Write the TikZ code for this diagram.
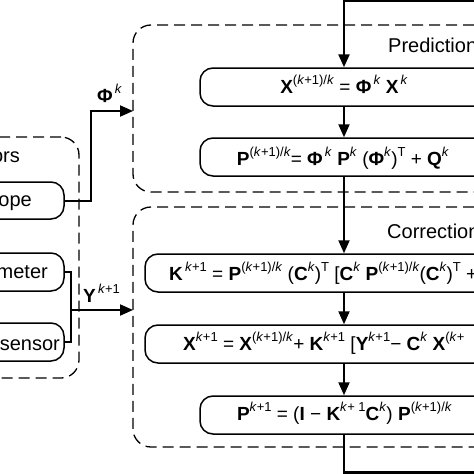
\documentclass[tikz,border=0pt]{standalone}
\usepackage{fontspec}
\setmainfont{Liberation Sans}
\usetikzlibrary{arrows.meta}
\newcommand{\bfx}[1]{\textbf{#1}}
\newcommand{\upk}[1]{\raisebox{0.45em}{\fontsize{13pt}{13pt}\selectfont #1}}
\newcommand{\kk}{\textit{k}}
\tikzset{
  box/.style={draw, line width=1.5pt, rounded corners=13pt, minimum height=38pt, inner sep=0pt},
  grp/.style={draw, line width=1.3pt, dash pattern=on 11pt off 6pt, rounded corners=18pt, inner sep=0pt},
  conn/.style={line width=2pt},
  arr/.style={conn, -{Triangle[length=13pt,width=11pt]}},
  lbl/.style={font=\fontsize{20pt}{23pt}\selectfont, inner sep=0pt},
  eq/.style={font=\fontsize{19pt}{22pt}\selectfont, inner sep=0pt},
}
\begin{document}
\begin{tikzpicture}[x=1pt,y=-1pt]
\useasboundingbox (0,0) rectangle (474,474);
\clip (0,0) rectangle (474,474);
% groups
\node[grp, minimum width=427pt, minimum height=167pt] (pred) at (346.5,108.5) {};
\node[grp, minimum width=427pt, minimum height=240pt] (corr) at (346.5,327) {};
\node[grp, minimum width=139pt, minimum height=241pt] (sens) at (9.5,257.5) {};
\node[lbl, anchor=base west] (predl) at (388,52) {Prediction};
\node[lbl, anchor=base west] (corrl) at (387,238) {Correction};
\node[lbl, anchor=base east] (sensl) at (20,162) {ors};
% sensor boxes
\node[box, minimum width=144pt, minimum height=37pt] (gyro) at (-8,200.5) {};
\node[box, minimum width=144pt] (acc) at (-8,272) {};
\node[box, minimum width=144pt] (mag) at (-8,342) {};
\node[lbl, anchor=base east] (gyrol) at (32,206) {ope};
\node[lbl, anchor=base east] (accl) at (48,278) {meter};
\node[lbl, anchor=base east] (magl) at (60,350) {sensor};
% filter boxes
\node[box, minimum width=288pt] (b1) at (344,87) {};
\node[box, minimum width=288pt] (b2) at (344,157) {};
\node[box, minimum width=398pt] (bk) at (344,273) {};
\node[box, minimum width=398pt] (bx) at (344,344) {};
\node[box, minimum width=288pt] (bp) at (344,415) {};
% formulas
\node[eq, anchor=base] (f1) at (344,93.5) {\bfx{X}\upk{(\kk+1)/\kk} = \bfx{Φ}\upk{\,\kk} \bfx{X}\upk{\,\kk}};
\node[eq, anchor=base] (f2) at (343,165) {\bfx{P}\upk{(\kk+1)/\kk}= \bfx{Φ}\upk{\,\kk} \bfx{P}\upk{\kk} (\bfx{Φ}\upk{\kk})\upk{T} + \bfx{Q}\upk{\kk}};
\node[eq, anchor=base west] (fk) at (169,280) {\bfx{K}\upk{\,\kk+1} = \bfx{P}\upk{(\kk+1)/\kk} (\bfx{C}\upk{\kk})\upk{T} [\bfx{C}\upk{\kk} \bfx{P}\upk{(\kk+1)/\kk}(\bfx{C}\upk{\kk})\upk{T} +};
\node[eq, anchor=base west] (fx) at (183,350) {\bfx{X}\upk{\kk+1} = \bfx{X}\upk{(\kk+1)/\kk}+ \bfx{K}\upk{\kk+1} [\bfx{Y}\upk{\kk+1}− \bfx{C}\upk{\kk} \bfx{X}\upk{(\kk+}};
\node[eq, anchor=base] (fp) at (344.5,420) {\bfx{P}\upk{\kk+1} = (\bfx{I} − \bfx{K}\upk{\kk + 1}\bfx{C}\upk{\kk}) \bfx{P}\upk{(\kk+1)/\kk}};
% input labels
\node[eq, anchor=base west] (phil) at (97,102) {\bfx{Φ}\upk{\,\kk}};
\node[eq, anchor=base west] (yl) at (83,302) {\bfx{Y}\upk{\,\kk+1}};
% coordinates
\coordinate (topL) at (344,1.2);
\coordinate (topR) at (500,1.2);
\coordinate (botL) at (344,472.5);
\coordinate (botR) at (500,472.5);
\coordinate (gyroBend) at (91,111);
\coordinate (phiIn) at (133,111);
\coordinate (brkTop) at (71,272);
\coordinate (brkBot) at (71,342);
\coordinate (brkMid) at (71,310);
\coordinate (yIn) at (133,310);
% connectors
\draw[arr, line width=2.4pt] (topR) -- (topL) -- (b1.north);
\draw[arr] (b1.south) -- (b2.north);
\draw[arr] (b2.south) -- (bk.north);
\draw[arr] (bk.south) -- (bx.north);
\draw[arr] (bx.south) -- (bp.north);
\draw[conn, line width=2.4pt] (bp.south) -- (botL) -- (botR);
\draw[arr] (gyro.east) -| (gyroBend) -- (phiIn);
\draw[conn, line width=1.6pt] (acc.east) -- (brkTop) -- (brkBot) -- (mag.east);
\draw[arr] (brkMid) -- (yIn);
\end{tikzpicture}
\end{document}
